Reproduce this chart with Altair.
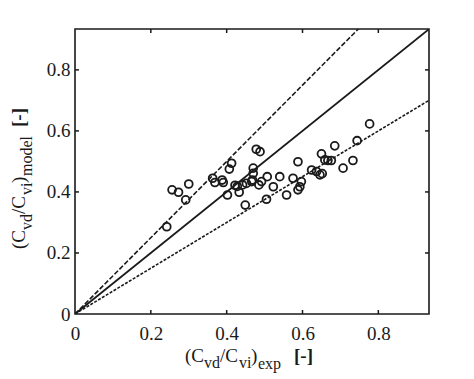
import altair as alt
import pandas as pd

# measured points
x_exp = [0.242, 0.256, 0.273, 0.300, 0.292,
         0.363, 0.369, 0.388, 0.391,
         0.413, 0.407, 0.402, 0.422, 0.433, 0.428,
         0.449, 0.442, 0.452, 0.466,
         0.470, 0.470, 0.478, 0.488,
         0.468, 0.485, 0.492, 0.507, 0.505, 0.523, 0.540,
         0.558, 0.575, 0.588, 0.593, 0.597, 0.588,
         0.624, 0.637, 0.650, 0.646, 0.652,
         0.659, 0.667, 0.676, 0.685, 0.707, 0.733, 0.744, 0.777]
y_model = [0.286, 0.407, 0.399, 0.426, 0.374,
           0.445, 0.431, 0.439, 0.431,
           0.494, 0.475, 0.390, 0.422, 0.399, 0.418,
           0.357, 0.423, 0.428, 0.434,
           0.478, 0.461, 0.540, 0.532,
           0.439, 0.423, 0.434, 0.450, 0.376, 0.417, 0.450,
           0.390, 0.445, 0.499, 0.417, 0.434, 0.407,
           0.472, 0.467, 0.525, 0.456, 0.460,
           0.505, 0.503, 0.503, 0.551, 0.478, 0.503, 0.568, 0.623]

# reference lines (endpoints)
line_x = [0.0, 1.0]
upper_y = [0.0, 1.25]
equal_y = [0.0, 1.0]
lower_y = [0.0, 0.75]

tick_values = [0.0, 0.2, 0.4, 0.6, 0.8]
inner_ticks = [0.2, 0.4, 0.6, 0.8]

X_MAX = 0.9336
Y_MAX = 0.934
W, H = 354, 285
FONT = "Liberation Serif"
INK = "#1a1a1a"

xs = alt.Scale(domain=[0, X_MAX], nice=False, zero=False)
ys = alt.Scale(domain=[0, Y_MAX], nice=False, zero=False)

pts = pd.DataFrame({"x": x_exp, "y": y_model})

x_axis = alt.Axis(values=tick_values, format="~g", title=None, labelPadding=10)
y_axis = alt.Axis(values=tick_values, format="~g", title=None, labelPadding=5)

scatter = alt.Chart(pts).mark_point(
    shape="circle", filled=False, size=62, strokeWidth=1.8, color=INK, opacity=1
).encode(
    x=alt.X("x:Q", scale=xs, axis=x_axis),
    y=alt.Y("y:Q", scale=ys, axis=y_axis),
)


def ref_line(yvals, dash, width):
    df = pd.DataFrame({"x": line_x, "y": yvals})
    kw = dict(clip=True, color=INK, strokeWidth=width)
    if dash:
        kw["strokeDash"] = dash
    return alt.Chart(df).mark_line(**kw).encode(
        x=alt.X("x:Q", scale=xs, axis=x_axis), y=alt.Y("y:Q", scale=ys, axis=y_axis))


upper = ref_line(upper_y, [5, 2], 1.6)
equal = ref_line(equal_y, None, 1.8)
lower = ref_line(lower_y, [3, 1.5], 1.6)

tdf = pd.DataFrame({"t": inner_ticks})
TL = 4
tick_bottom = alt.Chart(tdf).mark_rule(color=INK, strokeWidth=1.5).encode(
    x=alt.X("t:Q", scale=xs, axis=x_axis), y=alt.value(H), y2=alt.value(H - TL))
tick_top = alt.Chart(tdf).mark_rule(color=INK, strokeWidth=1.5).encode(
    x=alt.X("t:Q", scale=xs, axis=x_axis), y=alt.value(0), y2=alt.value(TL))
tick_left = alt.Chart(tdf).mark_rule(color=INK, strokeWidth=1.5).encode(
    y=alt.Y("t:Q", scale=ys, axis=y_axis), x=alt.value(0), x2=alt.value(TL))
tick_right = alt.Chart(tdf).mark_rule(color=INK, strokeWidth=1.5).encode(
    y=alt.Y("t:Q", scale=ys, axis=y_axis), x=alt.value(W), x2=alt.value(W - TL))

one = pd.DataFrame({"k": [0]})


def piece(text, x, y, size, angle=0, bold=False):
    kw = dict(font=FONT, fontSize=size, color=INK, align="left", baseline="alphabetic")
    if angle:
        kw["angle"] = angle
    if bold:
        kw["fontWeight"] = "bold"
    return alt.Chart(one).mark_text(**kw).encode(
        x=alt.value(x), y=alt.value(y), text=alt.value(text))


MS, SS = 19, 16
# x-axis title: (C_vd/C_vi)_exp [-]
xb, xsb = 333, 339
x_title = [
    piece("(C", 110, xb, MS),
    piece("vd", 129, xsb, SS),
    piece("/C", 145, xb, MS),
    piece("vi", 164, xsb, SS),
    piece(")", 176, xb, MS),
    piece("exp", 183, xsb + 1, SS),
    piece("[-]", 219, xb, MS, bold=True),
]
# y-axis title: (C_vd/C_vi)_model [-]
yb, ysb = -50, -43
y_title = [
    piece("(C", yb, 220, MS, 270),
    piece("vd", ysb, 201, SS, 270),
    piece("/C", yb, 185, MS, 270),
    piece("vi", ysb, 166, SS, 270),
    piece(")", yb, 154, MS, 270),
    piece("model", ysb, 147, SS, 270),
    piece("[-]", yb, 98, MS, 270, bold=True),
]

chart = alt.layer(
    upper, equal, lower, scatter,
    tick_bottom, tick_top, tick_left, tick_right,
    *x_title, *y_title,
).properties(
    width=W, height=H,
    autosize="none",
    padding={"left": 67, "top": 21, "right": 30, "bottom": 64},
    background="white",
).configure_view(
    stroke=INK, strokeWidth=1.6
).configure_axis(
    grid=False, domain=False, ticks=False, labelFont=FONT, labelFontSize=19,
    labelColor=INK, labelFlush=False
)

chart.save("out.html", embed_options={"renderer": "svg", "actions": False})
